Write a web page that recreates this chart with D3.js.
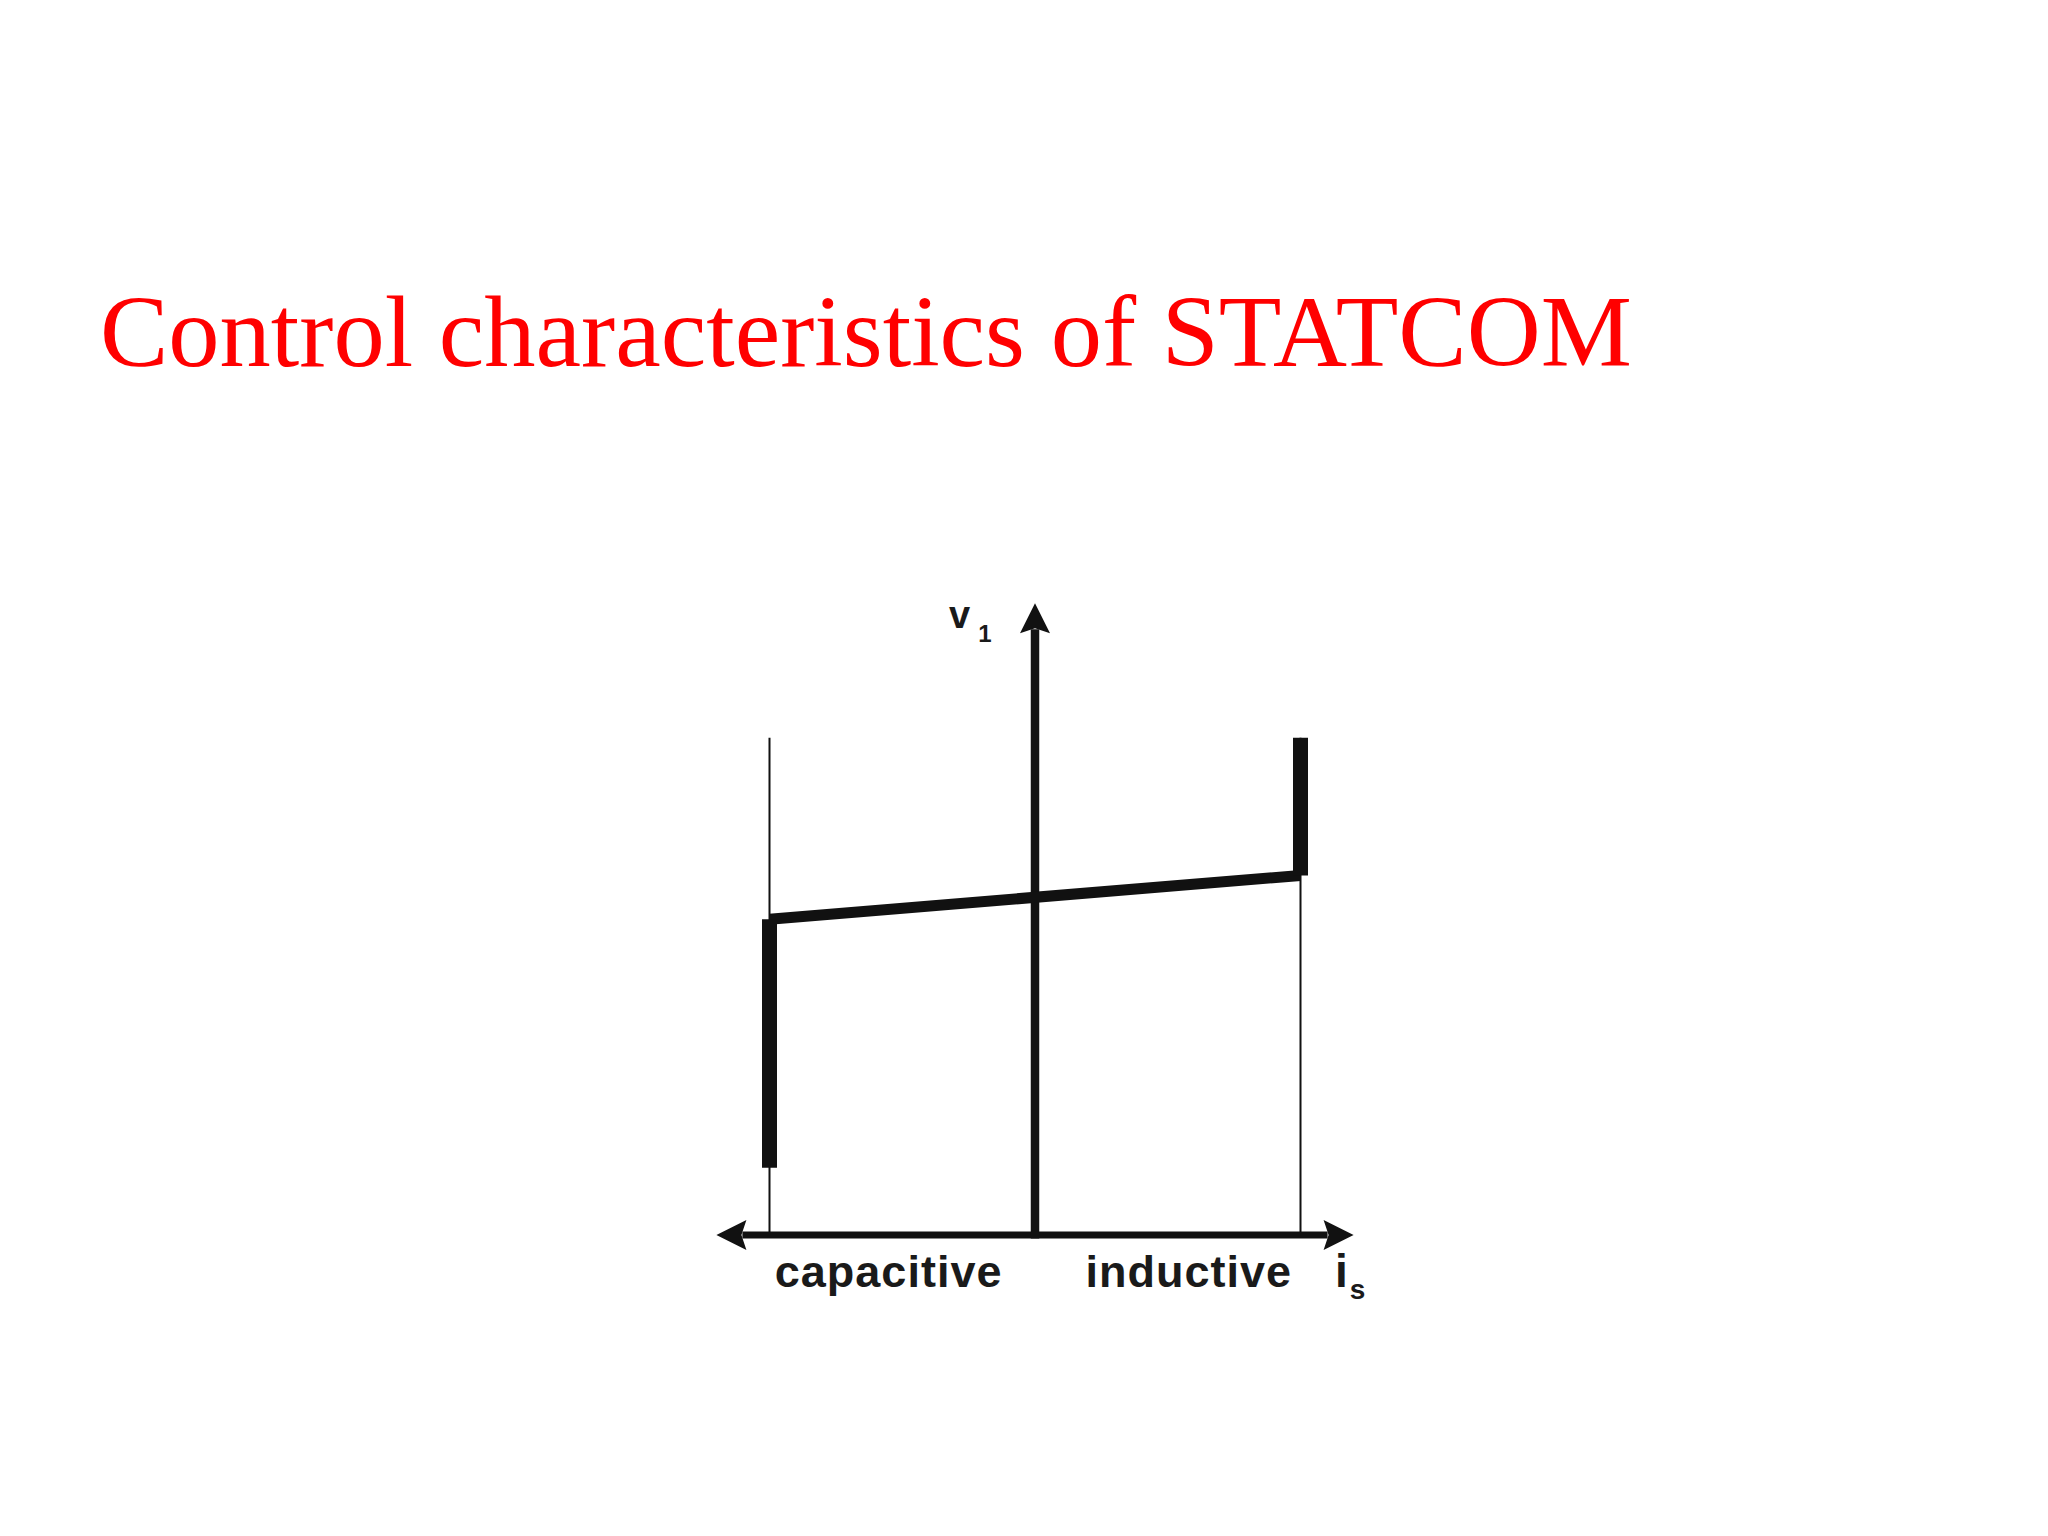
<!DOCTYPE html>
<html>
<head>
<meta charset="utf-8">
<script src="https://cdn.jsdelivr.net/npm/d3@7"></script>
<style>
  html, body { margin: 0; padding: 0; background: #ffffff; }
  svg { display: block; }
</style>
</head>
<body>
<div class="chart"></div>
<script>
// V-I control characteristic of a STATCOM (per unit)
const titleText = "Control characteristics of STATCOM";

// operating characteristic: capacitive limit, droop line, inductive limit
const charCurrent = [-1, -1, 1, 1];
const charVoltage = [0.2, 0.94, 1.07, 1.48];

// current limits (thin vertical guides)
const limitCurrent = [-1, 1];
const limitTop = 1.48;

// axis extents
const currentRange = [-1.2, 1.2];
const voltageRange = [0, 1.88];

const regionLabels = ["capacitive", "inductive"];
const regionCurrent = [-0.98, 0.19];

const width = 2048;
const height = 1536;

const svg = d3.select(".chart")
  .append("svg")
  .attr("width", width)
  .attr("height", height)
  .attr("viewBox", `0 0 ${width} ${height}`);

svg.append("rect")
  .attr("width", width)
  .attr("height", height)
  .attr("fill", "#ffffff");

// title
svg.append("text")
  .attr("x", 100)
  .attr("y", 366)
  .attr("font-family", "'Liberation Serif', 'Times New Roman', serif")
  .attr("font-size", 102.5)
  .attr("fill", "#ff0000")
  .text(titleText);

// scales
const x = d3.scaleLinear().domain(currentRange).range([716.4, 1353.6]);
const y = d3.scaleLinear().domain(voltageRange).range([1235, 1235 - 336 * voltageRange[1]]);

const ink = "#111111";
const g = svg.append("g");

// thin limit lines
g.selectAll("line.limit")
  .data(limitCurrent)
  .enter()
  .append("line")
  .attr("class", "limit")
  .attr("x1", d => x(d))
  .attr("x2", d => x(d))
  .attr("y1", y(0))
  .attr("y2", y(limitTop))
  .attr("stroke", ink)
  .attr("stroke-width", 2);

// horizontal axis (current)
const arrowLen = 30;
const arrowHalf = 15;
g.append("line")
  .attr("x1", x(currentRange[0]) + arrowLen - 4)
  .attr("x2", x(currentRange[1]) - arrowLen + 4)
  .attr("y1", y(0))
  .attr("y2", y(0))
  .attr("stroke", ink)
  .attr("stroke-width", 7);

// vertical axis (voltage)
g.append("line")
  .attr("x1", x(0))
  .attr("x2", x(0))
  .attr("y1", y(0) + 3.5)
  .attr("y2", y(voltageRange[1]) + arrowLen - 4)
  .attr("stroke", ink)
  .attr("stroke-width", 8.5);

// arrowheads
function arrow(tipX, tipY, dx, dy) {
  // dx, dy: unit direction the arrow points to
  const bx = tipX - dx * arrowLen, by = tipY - dy * arrowLen;
  const nx = -dy, ny = dx;
  const notchX = tipX - dx * (arrowLen - 5), notchY = tipY - dy * (arrowLen - 5);
  return `M${tipX},${tipY}L${bx + nx * arrowHalf},${by + ny * arrowHalf}` +
    `L${notchX},${notchY}L${bx - nx * arrowHalf},${by - ny * arrowHalf}Z`;
}

g.append("path").attr("d", arrow(x(currentRange[0]), y(0), -1, 0)).attr("fill", ink);
g.append("path").attr("d", arrow(x(currentRange[1]), y(0), 1, 0)).attr("fill", ink);
g.append("path").attr("d", arrow(x(0), y(voltageRange[1]), 0, -1)).attr("fill", ink);

// characteristic: thick limit segments and droop line
const pts = charCurrent.map((c, i) => [x(c), y(charVoltage[i])]);
const line = d3.line();

g.append("path")
  .attr("d", line([pts[1], pts[2]]))
  .attr("fill", "none")
  .attr("stroke", ink)
  .attr("stroke-width", 11);

g.append("path")
  .attr("d", line([pts[0], pts[1]]))
  .attr("fill", "none")
  .attr("stroke", ink)
  .attr("stroke-width", 15)
  .attr("stroke-linecap", "butt");

g.append("path")
  .attr("d", line([pts[2], pts[3]]))
  .attr("fill", "none")
  .attr("stroke", ink)
  .attr("stroke-width", 15)
  .attr("stroke-linecap", "butt");

// labels
const labelFont = "'Liberation Sans', Arial, Helvetica, sans-serif";

g.selectAll("text.region")
  .data(regionLabels)
  .enter()
  .append("text")
  .attr("class", "region")
  .attr("x", (d, i) => x(regionCurrent[i]))
  .attr("y", 1287)
  .attr("font-family", labelFont)
  .attr("font-weight", "bold")
  .attr("font-size", 45)
  .attr("letter-spacing", 1)
  .attr("fill", "#1a1a1a")
  .text(d => d);

// axis names with subscripts
const vLabel = g.append("text")
  .attr("x", 949)
  .attr("y", 628)
  .attr("font-family", labelFont)
  .attr("font-weight", "bold")
  .attr("font-size", 38)
  .attr("fill", "#1a1a1a");
vLabel.append("tspan").text("v");
vLabel.append("tspan").attr("dx", 8).attr("dy", 14).attr("font-size", 24).text("1");

const iLabel = g.append("text")
  .attr("x", 1335)
  .attr("y", 1287)
  .attr("font-family", labelFont)
  .attr("font-weight", "bold")
  .attr("font-size", 46)
  .attr("fill", "#1a1a1a");
iLabel.append("tspan").text("i");
iLabel.append("tspan").attr("dx", 2).attr("dy", 12).attr("font-size", 28).text("s");
</script>
</body>
</html>
